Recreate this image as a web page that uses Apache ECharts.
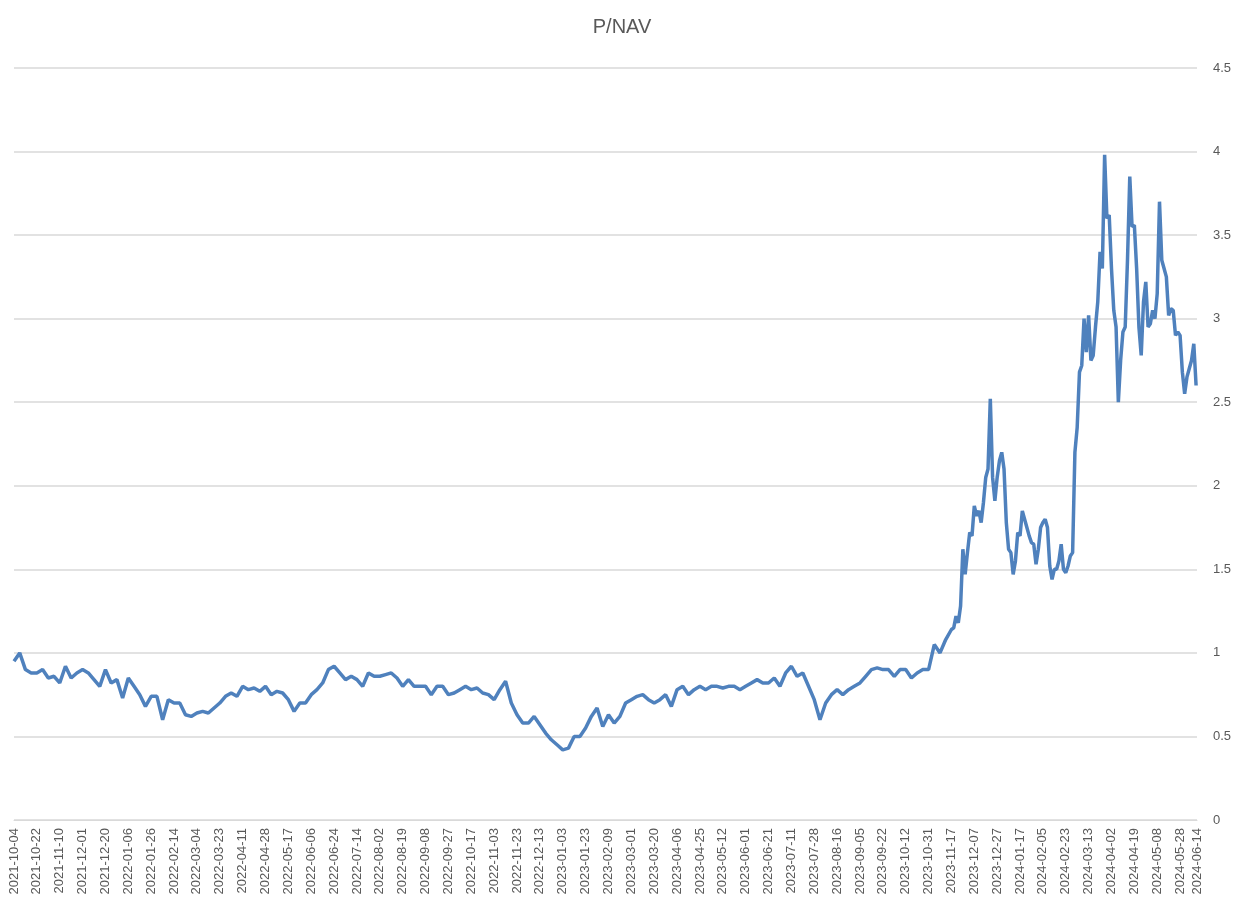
<!DOCTYPE html>
<html><head><meta charset="utf-8">
<script src="https://cdn.jsdelivr.net/npm/echarts@6/dist/echarts.min.js"></script>
<style>html,body{margin:0;padding:0;background:#fff}#c{width:1244px;height:920px}</style>
</head><body><div id="c"></div>
<script>
const tickLabels = ["2021-10-04","2021-10-22","2021-11-10","2021-12-01","2021-12-20","2022-01-06","2022-01-26","2022-02-14","2022-03-04","2022-03-23","2022-04-11","2022-04-28","2022-05-17","2022-06-06","2022-06-24","2022-07-14","2022-08-02","2022-08-19","2022-09-08","2022-09-27","2022-10-17","2022-11-03","2022-11-23","2022-12-13","2023-01-03","2023-01-23","2023-02-09","2023-03-01","2023-03-20","2023-04-06","2023-04-25","2023-05-12","2023-06-01","2023-06-21","2023-07-11","2023-07-28","2023-08-16","2023-09-05","2023-09-22","2023-10-12","2023-10-31","2023-11-17","2023-12-07","2023-12-27","2024-01-17","2024-02-05","2024-02-23","2024-03-13","2024-04-02","2024-04-19","2024-05-08","2024-05-28","2024-06-14"];
const lastLabelPos = 51.74;
// 4 readings per label interval, from 2021-10-04 up to 2023-11-17
const valuesCoarse = [
0.95,1.0,0.9,0.88, 0.88,0.9,0.85,0.86, 0.82,0.92,0.85,0.88, 0.9,0.88,0.84,0.8,
0.9,0.82,0.84,0.73, 0.85,0.8,0.75,0.68, 0.74,0.74,0.6,0.72, 0.7,0.7,0.63,0.62,
0.64,0.65,0.64,0.67, 0.7,0.74,0.76,0.74, 0.8,0.78,0.79,0.77, 0.8,0.75,0.77,0.76,
0.72,0.65,0.7,0.7, 0.75,0.78,0.82,0.9, 0.92,0.88,0.84,0.86, 0.84,0.8,0.88,0.86,
0.86,0.87,0.88,0.85, 0.8,0.84,0.8,0.8, 0.8,0.75,0.8,0.8, 0.75,0.76,0.78,0.8,
0.78,0.79,0.76,0.75, 0.72,0.78,0.83,0.7, 0.63,0.58,0.58,0.62, 0.57,0.52,0.48,0.45,
0.42,0.43,0.5,0.5, 0.55,0.62,0.67,0.56, 0.63,0.58,0.62,0.7, 0.72,0.74,0.75,0.72,
0.7,0.72,0.75,0.68, 0.78,0.8,0.75,0.78, 0.8,0.78,0.8,0.8, 0.79,0.8,0.8,0.78,
0.8,0.82,0.84,0.82, 0.82,0.85,0.8,0.88, 0.92,0.86,0.88,0.8, 0.72,0.6,0.7,0.75,
0.78,0.75,0.78,0.8, 0.82,0.86,0.9,0.91, 0.9,0.9,0.86,0.9, 0.9,0.85,0.88,0.9,
0.9,1.05,1.0,1.08];
// 10 readings per label interval, from 2023-11-17 to 2024-06-14
const valuesFine = [
1.14,1.15,1.22,1.18,1.28,1.62,1.47,1.6,1.72,1.7,
1.88,1.82,1.85,1.78,1.9,2.05,2.1,2.52,2.05,1.91,
2.05,2.15,2.2,2.1,1.78,1.62,1.6,1.47,1.55,1.72,
1.7,1.85,1.8,1.75,1.7,1.66,1.65,1.53,1.62,1.75,
1.78,1.8,1.75,1.52,1.44,1.5,1.5,1.55,1.65,1.5,
1.48,1.52,1.58,1.6,2.2,2.35,2.68,2.72,3.0,2.8,
3.02,2.75,2.78,2.95,3.1,3.4,3.3,3.98,3.6,3.62,
3.3,3.05,2.95,2.5,2.75,2.92,2.95,3.35,3.85,3.55,
3.56,3.3,2.95,2.78,3.1,3.22,2.95,2.97,3.05,3.0,
3.15,3.7,3.35,3.3,3.25,3.02,3.06,3.05,2.9,2.92,
2.9,2.68,2.55,2.65,2.7,2.75,2.85,2.6];
const yTicks = [0,0.5,1,1.5,2,2.5,3,3.5,4,4.5];

const data = [];
valuesCoarse.forEach((v,i)=>data.push([i/4, v]));
const fineStart = valuesCoarse.length/4;
valuesFine.forEach((v,i)=>data.push([fineStart + i/10, v]));
const tickPos = tickLabels.map((_,i)=> i===tickLabels.length-1 ? lastLabelPos : i);

const chart = echarts.init(document.getElementById('c'));
chart.setOption({
  animation:false,
  title:{text:'P/NAV',left:'center',top:12,textStyle:{color:'#595959',fontSize:20,fontWeight:'normal',fontFamily:'Liberation Sans, Arial'}},
  grid:{left:14,right:47,top:68,bottom:100},
  xAxis:{type:'value',min:0,max:lastLabelPos,
    axisLine:{show:true,lineStyle:{color:'#d9d9d9'}},
    axisTick:{show:false},
    splitLine:{show:false},
    axisLabel:{customValues:tickPos,rotate:90,color:'#595959',fontSize:13,fontFamily:'Liberation Sans, Arial',
      formatter:(v)=>{const i=tickPos.findIndex(p=>Math.abs(p-v)<1e-6);return i>=0?tickLabels[i]:'';}}
  },
  yAxis:{type:'value',position:'right',min:0,max:4.5,interval:0.5,
    axisLine:{show:false},axisTick:{show:false},
    splitLine:{lineStyle:{color:'#d9d9d9',width:1.5}},
    axisLabel:{color:'#595959',fontSize:13,margin:16,fontFamily:'Liberation Sans, Arial',
      formatter:(v)=>{const t=yTicks.find(x=>Math.abs(x-v)<1e-9);return t===undefined?'':String(t);}}
  },
  series:[{type:'line',data:data,showSymbol:false,lineStyle:{color:'#4f81bd',width:3.5},itemStyle:{color:'#4f81bd'}}]
});
</script></body></html>
